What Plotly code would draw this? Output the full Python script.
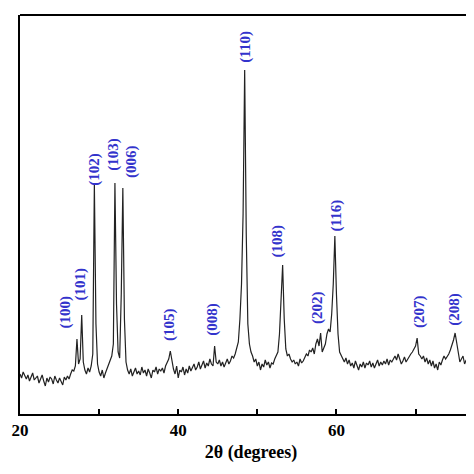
import plotly.graph_objects as go

# 2-theta grid (degrees) and intensity rows, 5 points per degree starting at each integer
start_deg = [20, 21, 22, 23, 24, 25, 26, 27, 28, 29, 30, 31, 32, 33, 34, 35, 36, 37, 38, 39,
             40, 41, 42, 43, 44, 45, 46, 47, 48, 49, 50, 51, 52, 53, 54, 55, 56, 57, 58, 59,
             60, 61, 62, 63, 64, 65, 66, 67, 68, 69, 70, 71, 72, 73, 74, 75, 76, 77, 78]
intensity_rows = [
    [40, 36, 42, 38, 35], [39, 33, 37, 41, 34], [36, 38, 31, 35, 39], [33, 28, 36, 32, 37],
    [35, 30, 38, 34, 31], [36, 33, 29, 37, 34], [38, 35, 40, 44, 43], [48, 75, 50, 55, 99],
    [52, 44, 40, 46, 42], [48, 60, 230, 90, 50], [42, 38, 44, 36, 41], [45, 48, 52, 58, 70],
    [231, 110, 62, 56, 120], [226, 95, 52, 44, 40], [45, 38, 42, 46, 40], [43, 39, 47, 41, 44],
    [38, 45, 41, 36, 44], [42, 47, 40, 45, 43], [46, 41, 48, 52, 55], [63, 52, 45, 40, 48],
    [36, 44, 42, 47, 39], [45, 41, 48, 43, 46], [50, 44, 47, 52, 45], [49, 53, 46, 51, 48],
    [55, 50, 48, 68, 52], [50, 54, 48, 52, 47], [51, 55, 50, 53, 58], [56, 60, 66, 72, 95],
    [130, 200, 344, 180, 90], [70, 62, 58, 52, 55], [48, 52, 44, 50, 47], [54, 49, 52, 46, 51],
    [50, 55, 58, 62, 80], [120, 149, 95, 65, 58], [60, 55, 52, 54, 50], [52, 48, 55, 51, 53],
    [57, 60, 58, 64, 62], [66, 60, 70, 75, 68], [81, 62, 66, 70, 80], [85, 82, 100, 130, 178],
    [120, 80, 62, 58, 55], [52, 56, 50, 54, 48], [51, 46, 53, 49, 44], [50, 47, 52, 46, 51],
    [49, 53, 47, 51, 46], [50, 54, 48, 52, 49], [53, 50, 55, 49, 54], [52, 56, 58, 54, 60],
    [55, 50, 53, 57, 52], [55, 58, 60, 62, 66], [68, 76, 60, 58, 55], [58, 52, 56, 50, 54],
    [48, 53, 46, 50, 44], [52, 49, 54, 58, 55], [57, 60, 64, 68, 74], [81, 70, 60, 52, 55],
    [58, 50, 54, 48, 56], [52, 57, 50, 55, 53], [58, 54, 56],
]
steps = [0.0, 0.2, 0.4, 0.6, 0.8]

peak_labels = ["(100)", "(101)", "(102)", "(103)", "(006)", "(105)", "(008)",
               "(110)", "(108)", "(202)", "(116)", "(207)", "(208)"]
label_x = [25.8, 27.6, 29.4, 31.8, 34.1, 38.9, 44.3, 48.4, 52.5, 57.6, 60.0, 70.5, 74.9]
label_y = [84, 111, 226, 241, 234, 71, 76, 349, 154, 88, 181, 84, 86]

xs, ys = [], []
for d, row in zip(start_deg, intensity_rows):
    for s, v in zip(steps, row):
        xs.append(round(d + s, 1))
        ys.append(v)

fig = go.Figure(go.Scatter(x=xs, y=ys, mode="lines",
                           line=dict(color="#222222", width=1.2), showlegend=False))

for t, x, y in zip(peak_labels, label_x, label_y):
    fig.add_annotation(x=x, y=y, text="<b>" + t + "</b>", textangle=-90, showarrow=False,
                       xanchor="center", yanchor="bottom",
                       font=dict(family="Liberation Serif", size=15, color="#3333cc"))

fig.update_layout(
    width=474, height=474, plot_bgcolor="white", paper_bgcolor="white",
    margin=dict(l=12, r=0, t=7, b=68, autoexpand=False),
    xaxis=dict(range=[20, 78.4], showline=True, linecolor="black", linewidth=2,
               automargin=False, ticks="inside", ticklen=5, tickwidth=2, tickcolor="black",
               tickvals=[20, 30, 40, 50, 60, 70],
               ticktext=["<b>20</b>", "", "<b>40</b>", "", "<b>60</b>", ""],
               tickfont=dict(family="Liberation Serif", size=17, color="black"),
               showgrid=False, zeroline=False,
               title=dict(text="<b>2θ (degrees)</b>", standoff=6,
                          font=dict(family="Liberation Serif", size=18, color="black"))),
    yaxis=dict(range=[0, 399], showline=True, linecolor="black", linewidth=2,
               automargin=False, showticklabels=False, ticks="", showgrid=False,
               zeroline=False),
)
fig.add_shape(type="line", xref="paper", yref="paper", x0=0, x1=1, y0=1, y1=1,
              line=dict(color="black", width=2))

fig.write_html("out.html")
